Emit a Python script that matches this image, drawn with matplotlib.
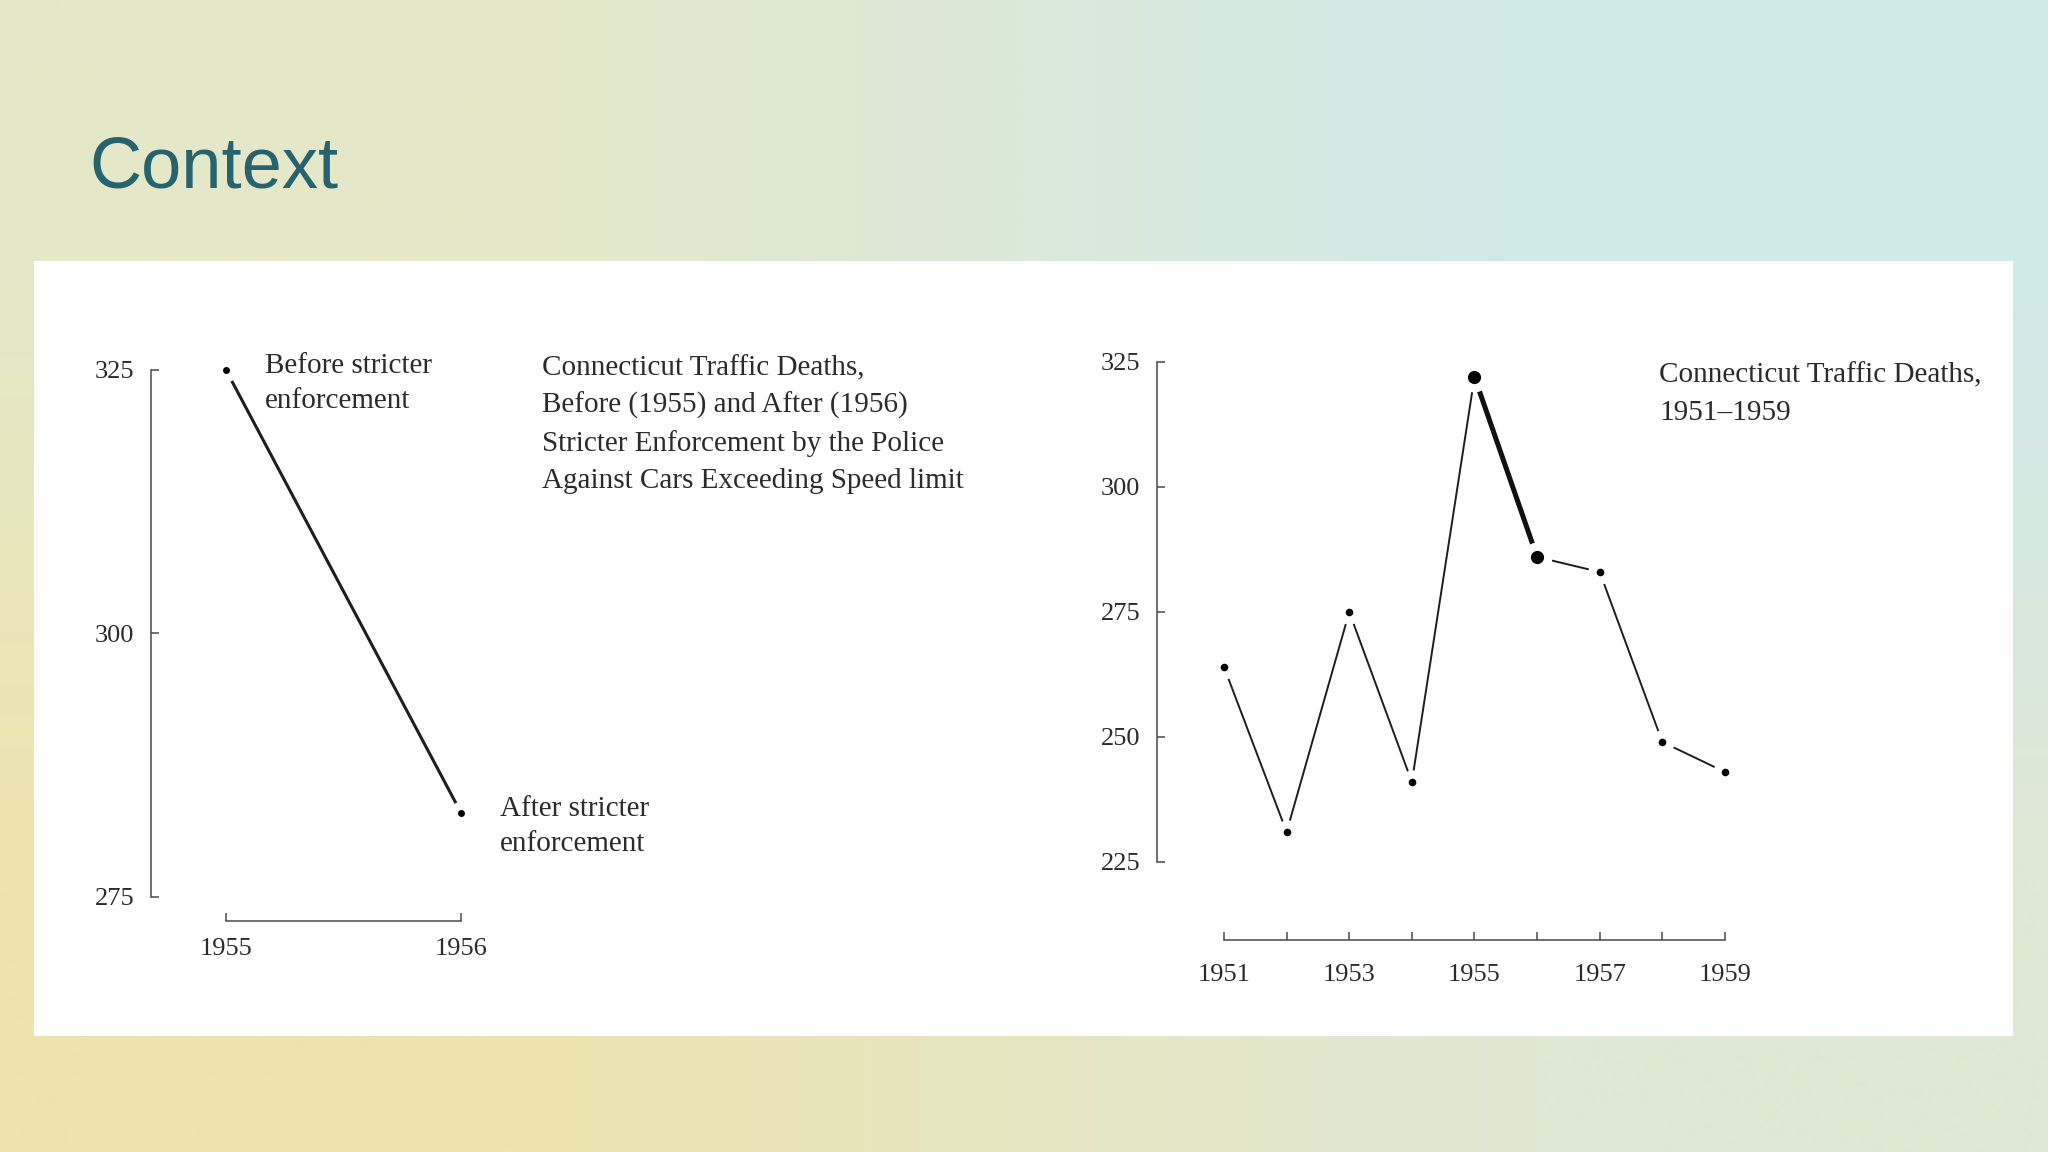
import numpy as np
import matplotlib
matplotlib.use("Agg")
import matplotlib.pyplot as plt
from matplotlib.patches import Rectangle

# data
before_after_years = [1955, 1956]
before_after_deaths = [325, 283]

years = [1951, 1952, 1953, 1954, 1955, 1956, 1957, 1958, 1959]
deaths = [264, 231, 275, 241, 322, 286, 283, 249, 243]
highlight_years = [1955, 1956]

left_yticks = [275, 300, 325]
right_yticks = [225, 250, 275, 300, 325]
right_xlabels = [str(y) if y % 2 == 1 else "" for y in years]

left_title = ("Connecticut Traffic Deaths,\nBefore (1955) and After (1956)\n"
              "Stricter Enforcement by the Police\nAgainst Cars Exceeding Speed limit")
right_title = "Connecticut Traffic Deaths,\n1951\u20131959"

W, H = 2048, 1152
SERIF = ["Liberation Serif", "DejaVu Serif"]
INK = "#2b2b2b"
AXC = "#4a4a4a"
FS = 21


def box(left, top, right, bottom):
    # pixel box -> figure fraction rect
    return [left / W, 1 - bottom / H, (right - left) / W, (bottom - top) / H]


fig = plt.figure(figsize=(W / 100, H / 100), dpi=100)

# gradient background + white panel, both on a full-figure axes
bg = fig.add_axes([0, 0, 1, 1], zorder=-1)
corners = np.array([[[0xe5, 0xe8, 0xc8], [0xd0, 0xea, 0xea]],
                    [[0xed, 0xe3, 0xae], [0xdf, 0xe8, 0xd4]]]) / 255.0
bg.imshow(corners, extent=[0, 1, 0, 1], interpolation="bilinear", aspect="auto")
bg.add_patch(Rectangle((34 / W, 1 - 1036 / H), (2013 - 34) / W, (1036 - 261) / H,
                       facecolor="white", edgecolor="none", zorder=3))
bg.set_xlim(0, 1)
bg.set_ylim(0, 1)
bg.axis("off")

fig.text(89 / W, 1 - 187 / H, "Context", fontsize=52, color="#27636e",
         family=["Liberation Sans", "DejaVu Sans"], va="baseline", ha="left")


def style_axes(ax, xb, yb, xpad, ypad):
    ax.patch.set_visible(False)
    for s in ["top", "right"]:
        ax.spines[s].set_visible(False)
    for s in ["left", "bottom"]:
        ax.spines[s].set_color(AXC)
        ax.spines[s].set_linewidth(1.1)
    ax.spines["left"].set_bounds(*yb)
    ax.spines["bottom"].set_bounds(*xb)
    ax.tick_params(axis="both", direction="in", length=6, width=1.1, color=AXC,
                   labelcolor=INK, labelsize=19)
    ax.tick_params(axis="x", pad=xpad)
    ax.tick_params(axis="y", pad=ypad)
    for lab in ax.get_xticklabels() + ax.get_yticklabels():
        lab.set_family(SERIF)


def gapped_points(ax, x, y, size, zo):
    # white halo under each dot gives the gap between line and point
    ax.plot(x, y, "o", ms=size + 12, color="white", mec="none", zorder=zo, clip_on=False)
    ax.plot(x, y, "o", ms=size, color="black", mec="none", zorder=zo + 1, clip_on=False)


# ---- left chart: before / after
ax1 = fig.add_axes(box(151, 370, 480, 921))
ax1.plot(before_after_years, before_after_deaths, color="#1e1e1e", lw=2.2, zorder=2,
         clip_on=False)
gapped_points(ax1, before_after_years, before_after_deaths, 5, 3)
ax1.set_xlim(1954.681, 1956.081)
ax1.set_ylim(272.72, 325)
ax1.set_yticks(left_yticks)
ax1.set_xticks(before_after_years)
ax1.set_xticklabels([str(y) for y in before_after_years])
style_axes(ax1, (1955, 1956), (275, 325), 12, 12)

ax1.annotate("Before stricter\nenforcement", xy=(before_after_years[0], before_after_deaths[0]),
             xytext=(28, 12), textcoords="offset points", fontsize=FS, family=SERIF,
             color=INK, va="top", ha="left", linespacing=1.45)
ax1.annotate("After stricter\nenforcement", xy=(before_after_years[1], before_after_deaths[1]),
             xytext=(28, 12), textcoords="offset points", fontsize=FS, family=SERIF,
             color=INK, va="top", ha="left", linespacing=1.45)

fig.text(542 / W, 1 - 355 / H, left_title, fontsize=FS, family=SERIF, color=INK,
         va="top", ha="left", linespacing=1.53)

# ---- right chart: 1951-1959
ax2 = fig.add_axes(box(1157, 362, 1745, 940))
i0, i1 = years.index(highlight_years[0]), years.index(highlight_years[1])
ax2.plot(years, deaths, color="#1e1e1e", lw=1.4, zorder=2, clip_on=False)
ax2.plot(years[i0:i1 + 1], deaths[i0:i1 + 1], color="#111111", lw=3.6, zorder=2.5,
         solid_capstyle="butt", clip_on=False)
small = [i for i in range(len(years)) if years[i] not in highlight_years]
gapped_points(ax2, [years[i] for i in small], [deaths[i] for i in small], 5.5, 3)
gapped_points(ax2, years[i0:i1 + 1], deaths[i0:i1 + 1], 9.5, 3)
ax2.set_xlim(1949.93, 1959.32)
ax2.set_ylim(209.4, 325)
ax2.set_yticks(right_yticks)
ax2.set_xticks(years)
ax2.set_xticklabels(right_xlabels)
style_axes(ax2, (years[0], years[-1]), (225, 325), 17, 12)

fig.text(1659 / W, 1 - 362 / H, right_title, fontsize=FS, family=SERIF, color=INK,
         va="top", ha="left", linespacing=1.6)

fig.savefig("out.png", dpi=100)
